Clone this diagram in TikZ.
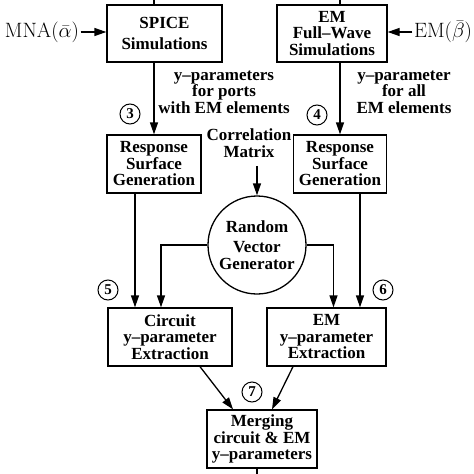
\documentclass[tikz,border=0pt]{standalone}
\usepackage[no-math]{fontspec}
\setmainfont{Liberation Serif}
\usepackage{amsmath}
\usepackage{amssymb}
\usepackage{tikz}
\usetikzlibrary{calc}
\usetikzlibrary{arrows.meta}
\usetikzlibrary{shapes.geometric}

\begin{document}
\begin{tikzpicture}[x=1pt, y=-1pt, line width=1.3pt,
    blk/.style={draw, rectangle, inner sep=0pt, align=center, minimum height=58pt,
      font=\bfseries\fontsize{17}{16.5}\selectfont},
    lbl/.style={inner sep=0pt, align=center, font=\bfseries\fontsize{17}{16.5}\selectfont},
    num/.style={draw, circle, minimum size=20pt, inner sep=0pt, line width=1pt,
      font=\bfseries\fontsize{15}{15}\selectfont},
    mth/.style={inner sep=1pt, font=\fontsize{20}{20}\selectfont},
    arr/.style={-{Triangle[length=12pt,width=8pt]}}]
  \useasboundingbox (0,0) rectangle (474,474);

  % Boxes
  \draw (164.5,33.5) node[blk, minimum width=115pt, minimum height=57pt] (spice) {SPICE\\[5pt]Simulations};
  \draw (332,33.5)   node[blk, minimum width=110pt, minimum height=57pt] (emsim) {EM\\Full--Wave\\Simulations};
  \draw (154,164)    node[blk, minimum width=94pt] (rsgL)  {Response\\Surface\\Generation};
  \draw (340,164)    node[blk, minimum width=93pt] (rsgR)  {Response\\Surface\\Generation};
  \draw (257,245)    node[lbl, draw, circle, minimum size=98pt] (rvg) {Random\\[4pt]Vector\\Generator};
  \draw (170,337)    node[blk, minimum width=124pt] (cyx)   {Circuit\\y--parameter\\Extraction};
  \draw (326.5,337)  node[blk, minimum width=119pt] (emyx)  {EM\\y--parameter\\Extraction};
  \draw (262,439)    node[blk, minimum width=110pt] (merge) {Merging\\circuit \& EM\\y--parameters};

  % Labels
  \draw (224,92)  node[lbl] (ypL)   {y--parameters\\for ports\\with EM elements};
  \draw (404,92)  node[lbl] (ypR)   {y--parameter\\for all\\EM elements};
  \draw (249,143) node[lbl] (corr)  {Correlation\\Matrix};
  \draw (42,32)   node[mth] (mna)   {$\mathrm{MNA}(\bar{\alpha})$};
  \draw (443,32)  node[mth] (emlab) {$\mathrm{EM}(\bar{\beta})$};

  % Step numbers
  \draw (130,114) node[num] (n3) {3};
  \draw (317,115) node[num] (n4) {4};
  \draw (108,290) node[num] (n5) {5};
  \draw (383,290) node[num] (n6) {6};
  \draw (252,392) node[num] (n7) {7};

  % Free ends
  \coordinate (topL) at (154,0);
  \coordinate (topR) at (340,0);
  \coordinate (bot)  at (257,474);

  % Connectors
  \draw (topL) -- (topL |- spice.north);
  \draw (topR) -- (topR |- emsim.north);
  \draw[arr] (mna.east) -- (mna.east -| spice.west);
  \draw[arr] (emlab.west) -- (emlab.west -| emsim.east);
  \draw[arr] (spice.south -| rsgL.north) -- (rsgL.north);
  \draw[arr] (emsim.south -| rsgR.north) -- (rsgR.north);
  \draw[arr, shorten <=8pt] (corr.south -| rvg.north) -- (rvg.north);
  \draw[arr] ([xshift=-19pt]rsgL.south) -- ([xshift=-19pt]rsgL.south |- cyx.north);
  \draw[arr] ([xshift=20pt]rsgR.south) -- ([xshift=20pt]rsgR.south |- emyx.north);
  \draw[arr] (rvg.west) -| ([xshift=-9pt]cyx.north);
  \draw[arr] (rvg.east) -| ([xshift=7pt]emyx.north);
  \draw[arr] ([xshift=30pt]cyx.south) -- ([xshift=-29pt]merge.north);
  \draw[arr] ([xshift=-33.5pt]emyx.south) -- ([xshift=10pt]merge.north);
  \draw (merge.south -| bot) -- (bot);
\end{tikzpicture}
\end{document}
